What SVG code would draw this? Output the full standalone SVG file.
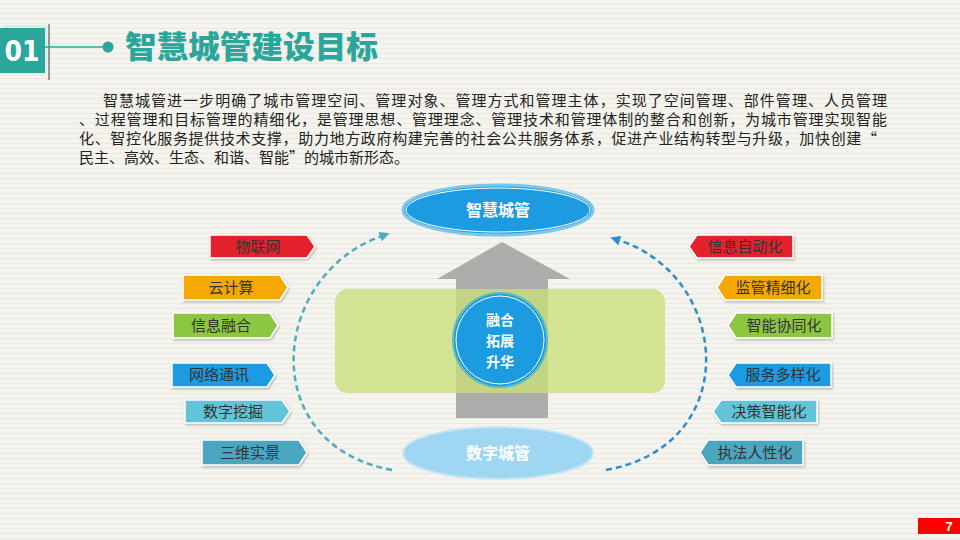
<svg xmlns="http://www.w3.org/2000/svg" width="960" height="540" viewBox="0 0 960 540">
<defs>
<pattern id="bgp" width="8" height="5" patternUnits="userSpaceOnUse">
<rect width="8" height="5" fill="#f4f3ed"/>
<rect y="3" width="8" height="1" fill="#ebe9e1"/>
</pattern>
<marker id="mkL" viewBox="0 0 10 10" refX="2" refY="5" markerWidth="4" markerHeight="4" orient="auto" markerUnits="strokeWidth">
<path d="M0 0 L10 5 L0 10 Z" fill="#4aaec0"/>
</marker>
<marker id="mkR" viewBox="0 0 10 10" refX="2" refY="5" markerWidth="4" markerHeight="4" orient="auto" markerUnits="strokeWidth">
<path d="M0 0 L10 5 L0 10 Z" fill="#2a8fd0"/>
</marker>
<filter id="sh" x="-10%" y="-20%" width="120%" height="150%">
<feDropShadow dx="1" dy="1.5" stdDeviation="1" flood-color="#000" flood-opacity="0.25"/>
</filter>
</defs>
<style>
.cjk{font-family:"Noto Sans CJK SC","Noto Sans",sans-serif}
.para{font-family:"Noto Sans CJK SC",sans-serif;font-size:15px;fill:#222}
.tag{stroke:#fff;stroke-width:1.5;filter:url(#sh)}
.tagt{font-family:"Noto Sans CJK SC",sans-serif;font-size:15px;fill:#333;text-anchor:middle}
.wt{font-family:"Noto Sans CJK SC",sans-serif;font-weight:bold;fill:#fff;text-anchor:middle}
.arc{fill:none;stroke-width:2.5;stroke-dasharray:6 4}
</style>
<rect width="960" height="540" fill="url(#bgp)"/>

<g id="header">
<rect x="3" y="25" width="44" height="47" fill="#d9ece8"/>
<rect x="0" y="28" width="45" height="45" fill="#2aa69a"/>
<text x="22" y="61" font-family="Liberation Sans Narrow,DejaVu Sans Condensed,Liberation Sans,sans-serif" font-stretch="condensed" font-weight="bold" font-size="28" fill="#fff" text-anchor="middle">01</text>
<line x1="49" y1="24" x2="49" y2="80" stroke="#777" stroke-width="1.5"/>
<line x1="45" y1="47" x2="106" y2="47" stroke="#2aa69a" stroke-width="1.5"/>
<circle cx="108" cy="47" r="5.5" fill="#2aa69a"/>
<text x="125" y="58" class="cjk" font-size="31" font-weight="900" fill="#2aa69a" textLength="253" lengthAdjust="spacingAndGlyphs">智慧城管建设目标</text>
</g>

<g id="paragraph">
<text class="para" x="103" y="106" textLength="784">智慧城管进一步明确了城市管理空间、管理对象、管理方式和管理主体，实现了空间管理、部件管理、人员管理</text>
<text class="para" x="79" y="125" textLength="808">、过程管理和目标管理的精细化，是管理思想、管理理念、管理技术和管理体制的整合和创新，为城市管理实现智能</text>
<text class="para" x="79" y="144" textLength="798">化、智控化服务提供技术支撑，助力地方政府构建完善的社会公共服务体系，促进产业结构转型与升级，加快创建“</text>
<text class="para" x="79" y="163">民主、高效、生态、和谐、智能”的城市新形态。</text>
</g>

<g id="connectors">
<path id="up-arrow" d="M456 418 V279 H437 L502 242 L570 279 H548 V418 Z" fill="#a0a0a0" fill-opacity="0.85"/>
<path d="M392 470 C255 445 270 275 382 236" class="arc" stroke="#4aaec0" marker-end="url(#mkL)"/>
<path d="M606 470 C745 445 730 275 618 240" class="arc" stroke="#2a8fd0" marker-end="url(#mkR)"/>
</g>

<g id="center-band">
<rect x="335" y="289" width="330" height="104" rx="13" fill="#c9df7c" fill-opacity="0.78"/>
</g>

<g id="node-top">
<ellipse cx="498" cy="210" rx="95" ry="25" fill="#1c9be0" stroke="#7cc6ea" stroke-width="3"/>
<ellipse cx="498" cy="210" rx="92" ry="22" fill="none" stroke="#fff" stroke-width="1"/>
<text class="wt" x="498" y="216" font-size="16">智慧城管</text>
</g>

<g id="node-center">
<circle cx="500" cy="340" r="47" fill="#1c9be0" stroke="#5fbcb8" stroke-width="2"/>
<circle cx="500" cy="340" r="44" fill="none" stroke="#fff" stroke-width="1"/>
<text class="wt" x="500" y="325" font-size="14">融合</text>
<text class="wt" x="500" y="346" font-size="14">拓展</text>
<text class="wt" x="500" y="367" font-size="14">升华</text>
</g>

<g id="node-bottom">
<ellipse cx="498" cy="453" rx="95" ry="26" fill="#9fd6f2" stroke="#c4e6f6" stroke-width="2"/>
<text class="wt" x="498" y="459" font-size="16">数字城管</text>
</g>

<g id="tag-wulianwang"><path class="tag" d="M210 235 H307 L315 246.5 L307 258 H210 Z" fill="#e3202f"/><text class="tagt" x="258" y="252">物联网</text></g>
<g id="tag-yunjisuan"><path class="tag" d="M183 275 H280 L288 287.5 L280 300 H183 Z" fill="#f5a900"/><text class="tagt" x="231" y="293">云计算</text></g>
<g id="tag-xinxironghe"><path class="tag" d="M173 313 H270 L278 325.5 L270 338 H173 Z" fill="#8dc63f"/><text class="tagt" x="221" y="331">信息融合</text></g>
<g id="tag-wangluotongxun"><path class="tag" d="M172 363 H267 L275 375 L267 387 H172 Z" fill="#1a9be2"/><text class="tagt" x="219" y="380">网络通讯</text></g>
<g id="tag-shuziwajue"><path class="tag" d="M185 400 H282 L290 411.5 L282 423 H185 Z" fill="#62c3d9"/><text class="tagt" x="233" y="417">数字挖掘</text></g>
<g id="tag-sanweishijing"><path class="tag" d="M202 440 H299 L307 452.5 L299 465 H202 Z" fill="#4ba6bf"/><text class="tagt" x="250" y="458">三维实景</text></g>

<g id="tag-xinxizidonghua"><path class="tag" d="M697 235 H793 V258 H697 L689 246.5 Z" fill="#e3202f"/><text class="tagt" x="745" y="252">信息自动化</text></g>
<g id="tag-jianguanjingxihua"><path class="tag" d="M725 275 H822 V300 H725 L717 287.5 Z" fill="#f5a900"/><text class="tagt" x="773" y="293">监管精细化</text></g>
<g id="tag-zhinengxietonghua"><path class="tag" d="M736 313 H832 V338 H736 L728 325.5 Z" fill="#8dc63f"/><text class="tagt" x="784" y="331">智能协同化</text></g>
<g id="tag-fuwuduoyanghua"><path class="tag" d="M736 363 H831 V387 H736 L728 375 Z" fill="#1a9be2"/><text class="tagt" x="783" y="380">服务多样化</text></g>
<g id="tag-juecezhinenghua"><path class="tag" d="M721 400 H817 V423 H721 L713 411.5 Z" fill="#62c3d9"/><text class="tagt" x="769" y="417">决策智能化</text></g>
<g id="tag-zhifarenxinghua"><path class="tag" d="M708 440 H803 V465 H708 L700 452.5 Z" fill="#4ba6bf"/><text class="tagt" x="755" y="458">执法人性化</text></g>

<g id="page-number">
<rect x="918" y="518" width="42" height="16" fill="#f00"/>
<text x="949" y="531" font-family="Liberation Sans,sans-serif" font-weight="bold" font-size="13" fill="#fff" text-anchor="middle">7</text>
</g>
</svg>
